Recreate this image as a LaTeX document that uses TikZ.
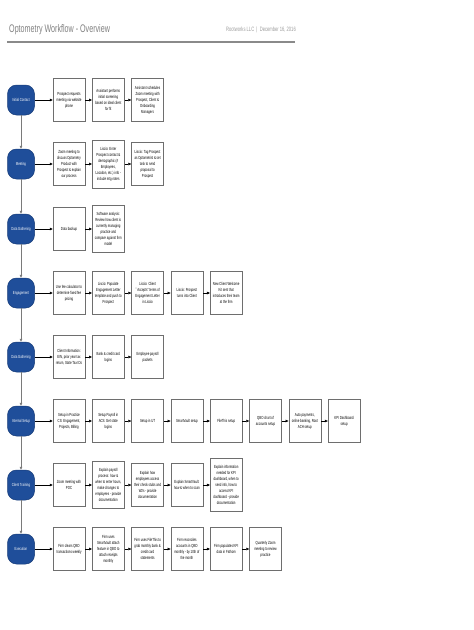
\documentclass[tikz,border=0pt]{standalone}
\usepackage{fontspec}
\setmainfont{Liberation Sans}
\newfontfamily\narrowf{Liberation Sans}[FakeStretch=0.65]
\usetikzlibrary{arrows.meta}
\definecolor{boxc}{HTML}{6E6E6E}
\definecolor{phasefill}{HTML}{1F4E9A}
\definecolor{phaseborder}{HTML}{173C78}
\definecolor{vline}{HTML}{7A7A7A}
\definecolor{titlec}{HTML}{7F7F7F}
\definecolor{subc}{HTML}{9A9A9A}
\definecolor{rulec}{HTML}{8A8A8A}
\newcommand{\boxfont}{\narrowf\fontsize{4.4}{6}\selectfont}
\newcommand{\phasefont}{\narrowf\fontsize{4.4}{5.5}\selectfont}
\tikzset{
  box/.style={draw=boxc, line width=0.5pt, fill=white, minimum width=32pt, minimum height=43pt,
    inner xsep=1pt, inner ysep=7pt, align=center, font=\boxfont},
  phase/.style={draw=phaseborder, line width=0.5pt, fill=phasefill, rounded corners=9pt,
    minimum width=27pt, minimum height=30pt, inner sep=1pt, align=center, font=\phasefont, text=white},
  arr/.style={-{Triangle[length=3pt,width=2.6pt]}, line width=0.5pt, draw=black},
  varr/.style={-{Triangle[length=3pt,width=2.6pt]}, line width=0.5pt, draw=vline}
}
\begin{document}
\begin{tikzpicture}[x=1pt,y=-1pt]
\useasboundingbox (0,0) rectangle (474,630);
% header
\node[anchor=west, font=\narrowf\fontsize{11}{13}\selectfont, text=titlec, inner sep=0] (title) at (9,30) {Optometry Workflow - Overview};
\node[anchor=east, font=\narrowf\fontsize{6.3}{8}\selectfont, text=subc, inner sep=0] (sub) at (296,30) {Rootworks LLC \ | \ December 16, 2016};
\coordinate (rl) at (7,42);
\coordinate (rr) at (295,42);
\draw[rulec, line width=1.2pt] (rl) -- (rr);

% phases
\node[phase] (p1) at (21,100) {Initial Contact};
\node[phase] (p2) at (21,164) {Meeting};
\node[phase] (p3) at (21,229) {Data Gathering};
\node[phase] (p4) at (21,293) {Engagement};
\node[phase] (p5) at (21,357) {Data Gathering};
\node[phase] (p6) at (21,421) {Internal Setup};
\node[phase] (p7) at (21,485) {Client Training};
\node[phase] (p8) at (21,549) {Execution};
\foreach \a/\b in {p1/p2,p2/p3,p3/p4,p4/p5,p5/p6,p6/p7,p7/p8}
  \draw[varr] (\a) -- (\b);

% row 1
\node[box] (a1) at (69,100) {Prospect requests\\meeting via website\\phone};
\node[box] (a2) at (108.3,100) {Assistant performs\\initial screening\\based on ideal client\\for fit};
\node[box] (a3) at (147.6,100) {Assistant schedules\\Zoom meeting with\\Prospect, Client \&\\Onboarding\\Managers};
\draw[arr] (p1) -- (a1);
\draw[arr] (a1) -- (a2);
\draw[arr] (a2) -- (a3);

% row 2
\node[box] (b1) at (69,164) {Zoom meeting to\\discuss Optometry\\Product with\\Prospect \& explain\\our process};
\node[box] (b2) at (108.3,164) {Liscio: Enter\\Prospect contact \&\\demographic (\#\\Employees,\\Location, etc.) info -\\include mtg notes};
\node[box] (b3) at (147.6,164) {Liscio: Tag Prospect\\as Optometrist \& set\\task to send\\proposal to\\Prospect};
\draw[arr] (p2) -- (b1);
\draw[arr] (b1) -- (b2);
\draw[arr] (b2) -- (b3);

% row 3
\node[box] (c1) at (69,229) {Data backup};
\node[box] (c2) at (108.3,229) {Software analysis:\\Review how client is\\currently managing\\practice and\\compare against firm\\model};
\draw[arr] (p3) -- (c1);
\draw[arr] (c1) -- (c2);

% row 4
\node[box] (d1) at (69,293) {Use fee calculator to\\determine fixed fee\\pricing};
\node[box] (d2) at (108.3,293) {Liscio: Populate\\Engagement Letter\\template and push to\\Prospect};
\node[box] (d3) at (147.6,293) {Liscio: Client\\``Accepts'' terms of\\Engagement Letter\\in Liscio};
\node[box] (d4) at (186.9,293) {Liscio: Prospect\\turns into Client};
\node[box] (d5) at (226.2,293) {New Client Welcome\\Kit sent that\\introduces their team\\at the firm};
\draw[arr] (p4) -- (d1);
\draw[arr] (d1) -- (d2);
\draw[arr] (d2) -- (d3);
\draw[arr] (d3) -- (d4);
\draw[arr] (d4) -- (d5);

% row 5
\node[box] (e1) at (69,357) {Client Information:\\EIN, prior year tax\\return, State Tax IDs};
\node[box] (e2) at (108.3,357) {Bank \& credit card\\logins};
\node[box] (e3) at (147.6,357) {Employee payroll\\packets};
\draw[arr] (p5) -- (e1);
\draw[arr] (e1) -- (e2);
\draw[arr] (e2) -- (e3);

% row 6
\node[box] (f1) at (69,421) {Setup in Practice\\CS: Engagement,\\Projects, Billing};
\node[box] (f2) at (108.3,421) {Setup Payroll in\\ACS: Get state\\logins};
\node[box] (f3) at (147.6,421) {Setup in UT};
\node[box] (f4) at (186.9,421) {SmartVault setup};
\node[box] (f5) at (226.2,421) {FileThis setup};
\node[box] (f6) at (265.5,421) {QBO chart of\\accounts setup};
\node[box] (f7) at (304.8,421) {Auto payments,\\online banking, Root\\ACH setup};
\node[box] (f8) at (344.1,421) {KPI Dashboard\\setup};
\draw[arr] (p6) -- (f1);
\foreach \a/\b in {f1/f2,f2/f3,f3/f4,f4/f5,f5/f6,f6/f7,f7/f8}
  \draw[arr] (\a) -- (\b);

% row 7
\node[box] (g1) at (69,485) {Zoom meeting with\\POC};
\node[box] (g2) at (108.3,485) {Explain payroll\\process: how \&\\when to enter hours,\\make changes to\\employees - provide\\documentation};
\node[box] (g3) at (147.6,485) {Explain how\\employees access\\their check stubs and\\W2s - provide\\documentation};
\node[box] (g4) at (186.9,485) {Explain SmartVault:\\how \& when to scan};
\node[box] (g5) at (226.2,485) {Explain information\\needed for KPI\\dashboard, when to\\send info, how to\\access KPI\\dashboard - provide\\documentation};
\draw[arr] (p7) -- (g1);
\foreach \a/\b in {g1/g2,g2/g3,g3/g4,g4/g5}
  \draw[arr] (\a) -- (\b);

% row 8
\node[box] (h1) at (69,549) {Firm clears QBO\\transactions weekly};
\node[box] (h2) at (108.3,549) {Firm uses\\SmartVault attach\\feature in QBO to\\attach receipts\\monthly};
\node[box] (h3) at (147.6,549) {Firm uses FileThis to\\grab monthly bank \&\\credit card\\statements};
\node[box] (h4) at (186.9,549) {Firm reconciles\\accounts in QBO\\monthly - by 10th of\\the month};
\node[box] (h5) at (226.2,549) {Firm populates KPI\\data in Fathom};
\node[box] (h6) at (265.5,549) {Quarterly Zoom\\meeting to review\\practice};
\draw[arr] (p8) -- (h1);
\foreach \a/\b in {h1/h2,h2/h3,h3/h4,h4/h5,h5/h6}
  \draw[arr] (\a) -- (\b);
\end{tikzpicture}
\end{document}
